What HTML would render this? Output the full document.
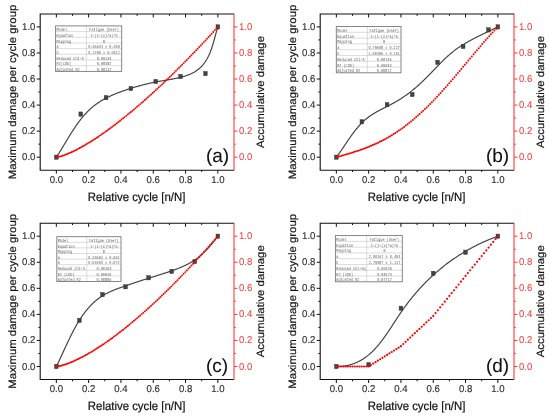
<!DOCTYPE html>
<html><head><meta charset="utf-8"><title>Fatigue damage plots</title><style>
html,body{margin:0;padding:0;background:#fff;overflow:hidden;}
svg{display:block;}
text{font-family:'Liberation Sans', Arial, sans-serif;fill:#1a1a1a;text-rendering:geometricPrecision;}
.tl{font-size:9.6px;fill:#303030;stroke:#303030;stroke-width:0.15px;}
.red{fill:#ff3c3c;stroke:#ff3c3c;stroke-width:0.05px;}
.at{font-size:11.4px;fill:#111;stroke:#111;stroke-width:0.2px;}
.pl{font-size:19.0px;fill:#111;stroke:#111;stroke-width:0.1px;}
.tb{font-family:'Liberation Mono', 'DejaVu Sans Mono', monospace;font-size:3.5px;fill:#5e5e5e;}
.tg{stroke:#c4c4c4;stroke-width:0.6;}
.fit{fill:none;stroke:#444;stroke-width:1.2;}
.sq{fill:#424242;stroke:#333;stroke-width:0.4;}
.rd{fill:none;stroke:#ff0000;stroke-linecap:round;}
.ax{fill:none;stroke:#111;stroke-width:1.1;}
.rax{stroke:#ff3a3a;stroke-width:1.1;}
.tk{stroke:#111;stroke-width:1;fill:none;}
.rtk{stroke:#ff3a3a;stroke-width:1;fill:none;}
</style></head>
<body><svg width="550" height="416" viewBox="0 0 550 416">
<rect width="550" height="416" fill="#fff"/>
<g transform="translate(0,0)">
<line x1="55.6" y1="31.59" x2="121.7" y2="31.59" class="tg"/>
<line x1="55.6" y1="37.27" x2="121.7" y2="37.27" class="tg"/>
<line x1="55.6" y1="42.96" x2="121.7" y2="42.96" class="tg"/>
<line x1="55.6" y1="48.65" x2="121.7" y2="48.65" class="tg"/>
<line x1="55.6" y1="54.34" x2="121.7" y2="54.34" class="tg"/>
<line x1="55.6" y1="60.03" x2="121.7" y2="60.03" class="tg"/>
<line x1="55.6" y1="65.71" x2="121.7" y2="65.71" class="tg"/>
<line x1="86.4" y1="25.9" x2="86.4" y2="71.4" class="tg"/>
<rect x="55.6" y="25.9" width="66.10" height="45.50" fill="none" stroke="#7a7a7a" stroke-width="0.9"/>
<text transform="translate(56.50,31.14) scale(1.000,1.300)" class="tb">Model</text>
<text transform="translate(104.05,31.14) scale(1.000,1.300)" class="tb" text-anchor="middle">Fatigue (User)</text>
<text transform="translate(56.50,36.83) scale(1.000,1.300)" class="tb">Equation</text>
<text transform="translate(104.05,36.83) scale(1.000,1.300)" class="tb" text-anchor="middle">1-(1-(x)^a)^b</text>
<text transform="translate(56.50,42.52) scale(1.000,1.300)" class="tb">Mapping</text>
<text transform="translate(104.05,42.52) scale(1.000,1.300)" class="tb" text-anchor="middle">B</text>
<text transform="translate(56.50,48.21) scale(1.000,1.300)" class="tb">a</text>
<text transform="translate(104.05,48.21) scale(1.000,1.300)" class="tb" text-anchor="middle">0.06641 ± 0.039</text>
<text transform="translate(56.50,53.89) scale(1.000,1.300)" class="tb">b</text>
<text transform="translate(104.05,53.89) scale(1.000,1.300)" class="tb" text-anchor="middle">0.2205 ± 0.0412</text>
<text transform="translate(56.50,59.58) scale(1.000,1.300)" class="tb">Reduced Chi-S</text>
<text transform="translate(104.05,59.58) scale(1.000,1.300)" class="tb" text-anchor="middle">0.00134</text>
<text transform="translate(56.50,65.27) scale(1.000,1.300)" class="tb">R2(COD)</text>
<text transform="translate(104.05,65.27) scale(1.000,1.300)" class="tb" text-anchor="middle">0.98382</text>
<text transform="translate(56.50,70.96) scale(1.000,1.300)" class="tb">Adjusted R2</text>
<text transform="translate(104.05,70.96) scale(1.000,1.300)" class="tb" text-anchor="middle">0.98112</text>
<path d="M56.35,157.20 L56.59,156.84 L56.82,156.49 L57.06,156.13 L57.29,155.77 L57.53,155.41 L57.76,155.04 L58.00,154.68 L58.23,154.32 L58.46,153.95 L58.70,153.58 L58.93,153.22 L59.16,152.85 L59.40,152.48 L59.63,152.10 L59.86,151.73 L60.09,151.36 L60.32,150.99 L60.56,150.61 L60.79,150.24 L61.02,149.86 L61.25,149.48 L61.48,149.10 L61.71,148.73 L61.94,148.35 L62.17,147.97 L62.41,147.58 L62.64,147.20 L62.87,146.82 L63.10,146.44 L63.33,146.06 L63.56,145.67 L63.79,145.29 L64.02,144.90 L64.26,144.52 L64.49,144.13 L64.72,143.75 L64.95,143.36 L65.18,142.97 L65.42,142.59 L65.65,142.20 L65.88,141.81 L66.12,141.42 L66.35,141.04 L66.58,140.65 L66.82,140.26 L67.05,139.87 L67.29,139.48 L67.52,139.09 L67.76,138.71 L67.99,138.32 L68.23,137.93 L68.47,137.54 L68.70,137.15 L68.94,136.76 L69.18,136.37 L69.42,135.99 L69.66,135.60 L69.90,135.21 L70.14,134.82 L70.38,134.43 L70.62,134.05 L70.86,133.66 L71.10,133.27 L71.35,132.89 L71.59,132.50 L71.83,132.12 L72.08,131.73 L72.33,131.35 L72.57,130.96 L72.82,130.58 L73.07,130.20 L73.32,129.82 L73.57,129.43 L73.82,129.05 L74.07,128.67 L74.32,128.29 L74.57,127.91 L74.83,127.54 L75.08,127.16 L75.34,126.78 L75.59,126.41 L75.85,126.03 L76.11,125.66 L76.37,125.28 L76.63,124.91 L76.89,124.54 L77.15,124.17 L77.41,123.80 L77.68,123.43 L77.94,123.06 L78.21,122.70 L78.48,122.33 L78.75,121.97 L79.02,121.61 L79.29,121.25 L79.56,120.89 L79.83,120.53 L80.11,120.17 L80.38,119.81 L80.66,119.46 L80.94,119.10 L81.22,118.75 L81.50,118.40 L81.78,118.05 L82.07,117.70 L82.35,117.35 L82.64,117.01 L82.93,116.67 L83.21,116.32 L83.50,115.98 L83.80,115.65 L84.09,115.31 L84.38,114.97 L84.68,114.64 L84.98,114.31 L85.28,113.98 L85.58,113.65 L85.88,113.32 L86.18,113.00 L86.49,112.67 L86.80,112.35 L87.10,112.03 L87.42,111.72 L87.73,111.40 L88.04,111.09 L88.36,110.78 L88.67,110.47 L88.99,110.16 L89.31,109.86 L89.63,109.55 L89.96,109.25 L90.28,108.95 L90.61,108.66 L90.94,108.36 L91.27,108.07 L91.60,107.78 L91.94,107.50 L92.27,107.21 L92.61,106.93 L92.95,106.65 L93.30,106.37 L93.64,106.10 L93.99,105.82 L94.33,105.55 L94.68,105.29 L95.03,105.02 L95.39,104.76 L95.74,104.49 L96.10,104.24 L96.46,103.98 L96.82,103.72 L97.18,103.47 L97.54,103.22 L97.91,102.97 L98.27,102.73 L98.64,102.48 L99.01,102.24 L99.38,102.00 L99.75,101.76 L100.13,101.53 L100.50,101.29 L100.88,101.06 L101.26,100.83 L101.64,100.60 L102.02,100.38 L102.40,100.15 L102.79,99.93 L103.17,99.71 L103.56,99.49 L103.94,99.28 L104.33,99.06 L104.72,98.85 L105.12,98.64 L105.51,98.43 L105.90,98.22 L106.30,98.01 L106.69,97.81 L107.09,97.61 L107.49,97.41 L107.89,97.21 L108.29,97.01 L108.69,96.82 L109.09,96.62 L109.50,96.43 L109.90,96.24 L110.31,96.05 L110.71,95.86 L111.12,95.68 L111.53,95.49 L111.94,95.31 L112.35,95.13 L112.76,94.95 L113.17,94.77 L113.59,94.59 L114.00,94.41 L114.41,94.24 L114.83,94.07 L115.24,93.89 L115.66,93.72 L116.08,93.56 L116.49,93.39 L116.91,93.22 L117.33,93.06 L117.75,92.89 L118.17,92.73 L118.59,92.57 L119.01,92.41 L119.43,92.25 L119.86,92.09 L120.28,91.93 L120.70,91.78 L121.13,91.62 L121.55,91.47 L121.97,91.32 L122.40,91.17 L122.82,91.02 L123.25,90.87 L123.67,90.72 L124.10,90.57 L124.53,90.43 L124.95,90.28 L125.38,90.14 L125.81,89.99 L126.23,89.85 L126.66,89.71 L127.09,89.57 L127.52,89.43 L127.94,89.29 L128.37,89.15 L128.80,89.01 L129.23,88.88 L129.66,88.74 L130.08,88.60 L130.51,88.47 L130.94,88.34 L131.37,88.20 L131.80,88.07 L132.22,87.94 L132.65,87.81 L133.08,87.68 L133.51,87.55 L133.93,87.42 L134.36,87.29 L134.79,87.16 L135.22,87.04 L135.65,86.91 L136.07,86.79 L136.50,86.66 L136.93,86.54 L137.36,86.41 L137.79,86.29 L138.21,86.17 L138.64,86.05 L139.07,85.93 L139.50,85.81 L139.93,85.69 L140.36,85.58 L140.79,85.46 L141.22,85.34 L141.65,85.23 L142.08,85.11 L142.51,85.00 L142.94,84.89 L143.37,84.78 L143.80,84.67 L144.23,84.56 L144.66,84.45 L145.09,84.34 L145.53,84.23 L145.96,84.12 L146.39,84.02 L146.82,83.91 L147.26,83.81 L147.69,83.71 L148.12,83.61 L148.56,83.50 L148.99,83.40 L149.43,83.31 L149.86,83.21 L150.30,83.11 L150.74,83.01 L151.17,82.92 L151.61,82.82 L152.05,82.73 L152.49,82.64 L152.93,82.55 L153.36,82.45 L153.80,82.36 L154.24,82.28 L154.69,82.19 L155.13,82.10 L155.57,82.02 L156.01,81.93 L156.45,81.85 L156.90,81.76 L157.34,81.68 L157.78,81.60 L158.23,81.52 L158.67,81.44 L159.12,81.36 L159.57,81.28 L160.01,81.21 L160.46,81.13 L160.91,81.05 L161.35,80.98 L161.80,80.90 L162.25,80.82 L162.70,80.75 L163.14,80.67 L163.59,80.60 L164.04,80.52 L164.49,80.45 L164.94,80.37 L165.39,80.30 L165.84,80.22 L166.28,80.15 L166.73,80.07 L167.18,79.99 L167.63,79.92 L168.08,79.84 L168.53,79.76 L168.98,79.69 L169.43,79.61 L169.87,79.53 L170.32,79.45 L170.77,79.37 L171.22,79.29 L171.66,79.20 L172.11,79.12 L172.56,79.04 L173.00,78.95 L173.45,78.87 L173.90,78.78 L174.34,78.69 L174.79,78.60 L175.23,78.51 L175.68,78.42 L176.12,78.33 L176.56,78.23 L177.00,78.14 L177.45,78.04 L177.89,77.94 L178.33,77.84 L178.77,77.74 L179.21,77.63 L179.65,77.53 L180.08,77.42 L180.52,77.31 L180.96,77.20 L181.39,77.09 L181.83,76.97 L182.26,76.85 L182.70,76.73 L183.13,76.61 L183.56,76.49 L183.99,76.36 L184.42,76.23 L184.85,76.10 L185.27,75.96 L185.70,75.83 L186.12,75.69 L186.54,75.54 L186.96,75.40 L187.38,75.25 L187.79,75.10 L188.21,74.94 L188.62,74.78 L189.03,74.62 L189.43,74.46 L189.84,74.29 L190.24,74.12 L190.64,73.94 L191.04,73.76 L191.44,73.58 L191.83,73.39 L192.22,73.20 L192.61,73.01 L192.99,72.81 L193.38,72.61 L193.75,72.40 L194.13,72.19 L194.50,71.98 L194.87,71.76 L195.24,71.53 L195.60,71.30 L195.96,71.07 L196.32,70.83 L196.67,70.59 L197.02,70.34 L197.37,70.09 L197.71,69.83 L198.05,69.57 L198.38,69.31 L198.71,69.04 L199.04,68.76 L199.37,68.48 L199.69,68.20 L200.00,67.91 L200.32,67.61 L200.63,67.32 L200.93,67.01 L201.23,66.71 L201.53,66.40 L201.83,66.08 L202.12,65.76 L202.41,65.44 L202.69,65.11 L202.97,64.78 L203.25,64.45 L203.52,64.11 L203.79,63.76 L204.06,63.42 L204.32,63.07 L204.58,62.71 L204.84,62.36 L205.09,61.99 L205.34,61.63 L205.58,61.26 L205.82,60.89 L206.06,60.51 L206.30,60.13 L206.53,59.75 L206.76,59.37 L206.98,58.98 L207.20,58.58 L207.42,58.19 L207.63,57.79 L207.84,57.39 L208.05,56.99 L208.25,56.58 L208.45,56.17 L208.65,55.76 L208.84,55.34 L209.03,54.93 L209.22,54.51 L209.41,54.08 L209.59,53.66 L209.77,53.23 L209.95,52.81 L210.12,52.38 L210.29,51.94 L210.46,51.51 L210.63,51.08 L210.79,50.64 L210.95,50.20 L211.11,49.76 L211.27,49.32 L211.43,48.88 L211.58,48.44 L211.73,47.99 L211.88,47.55 L212.03,47.10 L212.17,46.66 L212.32,46.21 L212.46,45.76 L212.60,45.32 L212.74,44.87 L212.87,44.42 L213.01,43.97 L213.14,43.52 L213.27,43.07 L213.40,42.62 L213.53,42.18 L213.66,41.73 L213.79,41.28 L213.92,40.83 L214.04,40.39 L214.17,39.94 L214.29,39.49 L214.41,39.05 L214.53,38.60 L214.65,38.16 L214.77,37.72 L214.89,37.28 L215.01,36.84 L215.13,36.40 L215.25,35.97 L215.37,35.53 L215.48,35.10 L215.60,34.66 L215.72,34.23 L215.83,33.81 L215.95,33.38 L216.07,32.96 L216.18,32.53 L216.30,32.11 L216.42,31.70 L216.53,31.28 L216.65,30.87 L216.77,30.46 L216.89,30.05 L217.00,29.65 L217.12,29.25 L217.24,28.85 L217.36,28.45 L217.48,28.06 L217.60,27.67 L217.73,27.28 L217.85,26.90" class="fit"/>
<rect x="54.50" y="155.05" width="3.7" height="4.3" class="sq"/>
<rect x="78.89" y="111.92" width="3.7" height="4.3" class="sq"/>
<rect x="104.19" y="95.50" width="3.7" height="4.3" class="sq"/>
<rect x="129.03" y="86.38" width="3.7" height="4.3" class="sq"/>
<rect x="153.89" y="79.35" width="3.7" height="4.3" class="sq"/>
<rect x="178.73" y="74.39" width="3.7" height="4.3" class="sq"/>
<rect x="203.58" y="71.40" width="3.7" height="4.3" class="sq"/>
<rect x="216.00" y="24.75" width="3.7" height="4.3" class="sq"/>
<path d="M56.35,157.20h0 M57.90,156.98h0 M59.46,156.62h0 M61.01,156.19h0 M62.56,155.70h0 M64.11,155.16h0 M65.67,154.58h0 M67.22,153.97h0 M68.77,153.32h0 M70.33,152.64h0 M71.88,151.93h0 M73.43,151.20h0 M74.98,150.44h0 M76.54,149.65h0 M78.09,148.85h0 M79.64,148.02h0 M81.20,147.17h0 M82.75,146.30h0 M84.30,145.41h0 M85.85,144.51h0 M87.41,143.58h0 M88.96,142.64h0 M90.51,141.69h0 M92.07,140.71h0 M93.62,139.72h0 M95.17,138.72h0 M96.72,137.70h0 M98.28,136.66h0 M99.83,135.61h0 M101.38,134.55h0 M102.94,133.47h0 M104.49,132.38h0 M106.04,131.28h0 M107.60,130.16h0 M109.15,129.03h0 M110.70,127.89h0 M112.25,126.74h0 M113.81,125.57h0 M115.36,124.40h0 M116.91,123.21h0 M118.47,122.01h0 M120.02,120.80h0 M121.57,119.58h0 M123.12,118.34h0 M124.68,117.10h0 M126.23,115.85h0 M127.78,114.58h0 M129.34,113.31h0 M130.89,112.02h0 M132.44,110.73h0 M133.99,109.43h0 M135.55,108.11h0 M137.10,106.79h0 M138.65,105.46h0 M140.21,104.11h0 M141.76,102.76h0 M143.31,101.40h0 M144.86,100.03h0 M146.42,98.65h0 M147.97,97.27h0 M149.52,95.87h0 M151.08,94.46h0 M152.63,93.05h0 M154.18,91.63h0 M155.73,90.20h0 M157.29,88.76h0 M158.84,87.32h0 M160.39,85.86h0 M161.95,84.40h0 M163.50,82.93h0 M165.05,81.45h0 M166.60,79.96h0 M168.16,78.47h0 M169.71,76.97h0 M171.26,75.46h0 M172.82,73.94h0 M174.37,72.41h0 M175.92,70.88h0 M177.47,69.34h0 M179.03,67.80h0 M180.58,66.24h0 M182.13,64.68h0 M183.69,63.11h0 M185.24,61.54h0 M186.79,59.95h0 M188.35,58.36h0 M189.90,56.77h0 M191.45,55.16h0 M193.00,53.55h0 M194.56,51.94h0 M196.11,50.31h0 M197.66,48.68h0 M199.22,47.05h0 M200.77,45.40h0 M202.32,43.75h0 M203.87,42.10h0 M205.43,40.43h0 M206.98,38.76h0 M208.53,37.09h0 M210.09,35.41h0 M211.64,33.72h0 M213.19,32.02h0 M214.74,30.32h0 M216.30,28.61h0 M217.85,26.90h0" class="rd" stroke-width="1.95"/>
<path d="M234.0,14.0 H40.2 V170.2 H234.0" class="ax"/>
<line x1="234.0" y1="13.5" x2="234.0" y2="170.7" class="rax"/>
<path d="M56.35,170.2 v3.5 M56.35,14.0 v3.5 M40.2,157.20 h-3.5 M72.50,170.2 v1.8 M72.50,14.0 v1.8 M40.2,144.17 h-1.8 M88.65,170.2 v3.5 M88.65,14.0 v3.5 M40.2,131.14 h-3.5 M104.80,170.2 v1.8 M104.80,14.0 v1.8 M40.2,118.11 h-1.8 M120.95,170.2 v3.5 M120.95,14.0 v3.5 M40.2,105.08 h-3.5 M137.10,170.2 v1.8 M137.10,14.0 v1.8 M40.2,92.05 h-1.8 M153.25,170.2 v3.5 M153.25,14.0 v3.5 M40.2,79.02 h-3.5 M169.40,170.2 v1.8 M169.40,14.0 v1.8 M40.2,65.99 h-1.8 M185.55,170.2 v3.5 M185.55,14.0 v3.5 M40.2,52.96 h-3.5 M201.70,170.2 v1.8 M201.70,14.0 v1.8 M40.2,39.93 h-1.8 M217.85,170.2 v3.5 M217.85,14.0 v3.5 M40.2,26.90 h-3.5" class="tk"/>
<path d="M234.0,157.20 h3.5 M234.0,144.17 h1.8 M234.0,131.14 h3.5 M234.0,118.11 h1.8 M234.0,105.08 h3.5 M234.0,92.05 h1.8 M234.0,79.02 h3.5 M234.0,65.99 h1.8 M234.0,52.96 h3.5 M234.0,39.93 h1.8 M234.0,26.90 h3.5" class="rtk"/>
<text transform="translate(56.35,183.10) scale(1.000,1.030)" class="tl" text-anchor="middle">0.0</text>
<text transform="translate(35.40,160.24) scale(1.000,1.030)" class="tl" text-anchor="end">0.0</text>
<text transform="translate(239.00,160.24) scale(1.000,1.030)" class="tl red">0.0</text>
<text transform="translate(88.65,183.10) scale(1.000,1.030)" class="tl" text-anchor="middle">0.2</text>
<text transform="translate(35.40,134.18) scale(1.000,1.030)" class="tl" text-anchor="end">0.2</text>
<text transform="translate(239.00,134.18) scale(1.000,1.030)" class="tl red">0.2</text>
<text transform="translate(120.95,183.10) scale(1.000,1.030)" class="tl" text-anchor="middle">0.4</text>
<text transform="translate(35.40,108.12) scale(1.000,1.030)" class="tl" text-anchor="end">0.4</text>
<text transform="translate(239.00,108.12) scale(1.000,1.030)" class="tl red">0.4</text>
<text transform="translate(153.25,183.10) scale(1.000,1.030)" class="tl" text-anchor="middle">0.6</text>
<text transform="translate(35.40,82.06) scale(1.000,1.030)" class="tl" text-anchor="end">0.6</text>
<text transform="translate(239.00,82.06) scale(1.000,1.030)" class="tl red">0.6</text>
<text transform="translate(185.55,183.10) scale(1.000,1.030)" class="tl" text-anchor="middle">0.8</text>
<text transform="translate(35.40,56.00) scale(1.000,1.030)" class="tl" text-anchor="end">0.8</text>
<text transform="translate(239.00,56.00) scale(1.000,1.030)" class="tl red">0.8</text>
<text transform="translate(217.85,183.10) scale(1.000,1.030)" class="tl" text-anchor="middle">1.0</text>
<text transform="translate(35.40,29.94) scale(1.000,1.030)" class="tl" text-anchor="end">1.0</text>
<text transform="translate(239.00,29.94) scale(1.000,1.030)" class="tl red">1.0</text>
<text transform="translate(136.60,200.50) scale(1.000,1.060)" class="at" text-anchor="middle">Relative cycle [n/N]</text>
<text transform="translate(15.90,92.00) scale(0.935,1.000) rotate(-90)" class="at" text-anchor="middle">Maximum damage per cycle group</text>
<text transform="translate(264.30,92.00) scale(0.935,1.000) rotate(-90)" class="at" text-anchor="middle">Accumulative damage</text>
<text transform="translate(205.90,162.20)" class="pl">(a)</text>
</g>
<g transform="translate(280,0)">
<line x1="56.3" y1="32.29" x2="121.0" y2="32.29" class="tg"/>
<line x1="56.3" y1="38.08" x2="121.0" y2="38.08" class="tg"/>
<line x1="56.3" y1="43.86" x2="121.0" y2="43.86" class="tg"/>
<line x1="56.3" y1="49.65" x2="121.0" y2="49.65" class="tg"/>
<line x1="56.3" y1="55.44" x2="121.0" y2="55.44" class="tg"/>
<line x1="56.3" y1="61.22" x2="121.0" y2="61.22" class="tg"/>
<line x1="56.3" y1="67.01" x2="121.0" y2="67.01" class="tg"/>
<line x1="87.3" y1="26.5" x2="87.3" y2="72.8" class="tg"/>
<rect x="56.3" y="26.5" width="64.70" height="46.30" fill="none" stroke="#7a7a7a" stroke-width="0.9"/>
<text transform="translate(57.20,31.79) scale(1.000,1.300)" class="tb">Model</text>
<text transform="translate(104.15,31.79) scale(1.000,1.300)" class="tb" text-anchor="middle">Fatigue (User)</text>
<text transform="translate(57.20,37.58) scale(1.000,1.300)" class="tb">Equation</text>
<text transform="translate(104.15,37.58) scale(1.000,1.300)" class="tb" text-anchor="middle">1-(1-(x)^a)^b</text>
<text transform="translate(57.20,43.37) scale(1.000,1.300)" class="tb">Mapping</text>
<text transform="translate(104.15,43.37) scale(1.000,1.300)" class="tb" text-anchor="middle">B</text>
<text transform="translate(57.20,49.16) scale(1.000,1.300)" class="tb">a</text>
<text transform="translate(104.15,49.16) scale(1.000,1.300)" class="tb" text-anchor="middle">0.79508 ± 0.127</text>
<text transform="translate(57.20,54.94) scale(1.000,1.300)" class="tb">b</text>
<text transform="translate(104.15,54.94) scale(1.000,1.300)" class="tb" text-anchor="middle">1.00486 ± 0.151</text>
<text transform="translate(57.20,60.73) scale(1.000,1.300)" class="tb">Reduced Chi-S</text>
<text transform="translate(104.15,60.73) scale(1.000,1.300)" class="tb" text-anchor="middle">0.00145</text>
<text transform="translate(57.20,66.52) scale(1.000,1.300)" class="tb">R2 (COD)</text>
<text transform="translate(104.15,66.52) scale(1.000,1.300)" class="tb" text-anchor="middle">0.99033</text>
<text transform="translate(57.20,72.31) scale(1.000,1.300)" class="tb">Adjusted R2</text>
<text transform="translate(104.15,72.31) scale(1.000,1.300)" class="tb" text-anchor="middle">0.98872</text>
<path d="M56.35,157.20 L56.60,156.87 L56.85,156.54 L57.10,156.21 L57.35,155.88 L57.59,155.55 L57.84,155.21 L58.09,154.88 L58.33,154.54 L58.58,154.20 L58.82,153.86 L59.07,153.52 L59.31,153.18 L59.55,152.84 L59.80,152.50 L60.04,152.15 L60.28,151.81 L60.52,151.46 L60.76,151.11 L61.01,150.77 L61.25,150.42 L61.49,150.07 L61.73,149.72 L61.97,149.37 L62.21,149.01 L62.45,148.66 L62.69,148.31 L62.93,147.95 L63.17,147.60 L63.41,147.25 L63.65,146.89 L63.89,146.54 L64.13,146.18 L64.37,145.82 L64.61,145.47 L64.85,145.11 L65.08,144.75 L65.32,144.40 L65.56,144.04 L65.81,143.68 L66.05,143.32 L66.29,142.97 L66.53,142.61 L66.77,142.25 L67.01,141.89 L67.25,141.54 L67.49,141.18 L67.74,140.82 L67.98,140.46 L68.22,140.11 L68.47,139.75 L68.71,139.39 L68.96,139.04 L69.20,138.68 L69.45,138.32 L69.69,137.97 L69.94,137.62 L70.19,137.26 L70.44,136.91 L70.68,136.55 L70.93,136.20 L71.18,135.85 L71.43,135.50 L71.69,135.15 L71.94,134.80 L72.19,134.45 L72.44,134.10 L72.70,133.75 L72.96,133.41 L73.21,133.06 L73.47,132.72 L73.73,132.37 L73.99,132.03 L74.25,131.69 L74.51,131.35 L74.77,131.01 L75.03,130.67 L75.30,130.33 L75.56,130.00 L75.83,129.66 L76.10,129.33 L76.37,129.00 L76.64,128.67 L76.91,128.34 L77.18,128.01 L77.45,127.68 L77.73,127.36 L78.00,127.03 L78.28,126.71 L78.56,126.39 L78.84,126.07 L79.12,125.76 L79.41,125.44 L79.69,125.13 L79.98,124.82 L80.26,124.51 L80.55,124.20 L80.84,123.89 L81.14,123.59 L81.43,123.29 L81.72,122.99 L82.02,122.69 L82.32,122.39 L82.62,122.10 L82.92,121.81 L83.23,121.52 L83.53,121.23 L83.84,120.94 L84.15,120.66 L84.46,120.38 L84.77,120.10 L85.09,119.82 L85.40,119.55 L85.72,119.28 L86.04,119.01 L86.36,118.74 L86.69,118.48 L87.01,118.22 L87.34,117.96 L87.67,117.70 L88.00,117.45 L88.34,117.20 L88.67,116.95 L89.01,116.70 L89.35,116.46 L89.69,116.22 L90.03,115.98 L90.38,115.74 L90.72,115.51 L91.07,115.27 L91.42,115.04 L91.77,114.81 L92.12,114.58 L92.48,114.36 L92.83,114.13 L93.19,113.91 L93.55,113.69 L93.91,113.47 L94.27,113.26 L94.63,113.04 L94.99,112.83 L95.35,112.61 L95.72,112.40 L96.08,112.19 L96.45,111.98 L96.82,111.78 L97.19,111.57 L97.56,111.36 L97.93,111.16 L98.30,110.96 L98.67,110.76 L99.04,110.56 L99.42,110.36 L99.79,110.16 L100.16,109.96 L100.54,109.76 L100.91,109.56 L101.29,109.37 L101.67,109.17 L102.04,108.98 L102.42,108.78 L102.80,108.59 L103.18,108.40 L103.56,108.20 L103.93,108.01 L104.31,107.82 L104.69,107.62 L105.07,107.43 L105.45,107.24 L105.83,107.05 L106.21,106.86 L106.59,106.67 L106.97,106.47 L107.35,106.28 L107.72,106.09 L108.10,105.90 L108.48,105.70 L108.86,105.51 L109.24,105.32 L109.61,105.12 L109.99,104.93 L110.37,104.73 L110.74,104.54 L111.12,104.34 L111.49,104.15 L111.87,103.95 L112.24,103.75 L112.61,103.55 L112.99,103.35 L113.36,103.15 L113.73,102.95 L114.10,102.75 L114.47,102.54 L114.83,102.34 L115.20,102.13 L115.57,101.92 L115.93,101.71 L116.30,101.50 L116.66,101.29 L117.02,101.08 L117.38,100.87 L117.74,100.65 L118.10,100.44 L118.46,100.22 L118.82,100.00 L119.17,99.78 L119.53,99.56 L119.88,99.34 L120.24,99.12 L120.59,98.89 L120.94,98.67 L121.29,98.44 L121.64,98.21 L121.99,97.98 L122.34,97.75 L122.68,97.52 L123.03,97.29 L123.38,97.06 L123.72,96.82 L124.06,96.59 L124.41,96.35 L124.75,96.11 L125.09,95.87 L125.43,95.63 L125.77,95.39 L126.11,95.15 L126.44,94.91 L126.78,94.66 L127.11,94.42 L127.45,94.17 L127.78,93.93 L128.12,93.68 L128.45,93.43 L128.78,93.18 L129.11,92.93 L129.44,92.67 L129.77,92.42 L130.10,92.17 L130.43,91.91 L130.75,91.66 L131.08,91.40 L131.41,91.14 L131.73,90.88 L132.05,90.62 L132.38,90.36 L132.70,90.10 L133.02,89.84 L133.34,89.57 L133.66,89.31 L133.98,89.05 L134.30,88.78 L134.62,88.51 L134.94,88.24 L135.26,87.98 L135.57,87.71 L135.89,87.44 L136.20,87.16 L136.52,86.89 L136.83,86.62 L137.14,86.35 L137.46,86.07 L137.77,85.80 L138.08,85.52 L138.39,85.24 L138.70,84.97 L139.01,84.69 L139.32,84.41 L139.62,84.13 L139.93,83.85 L140.24,83.56 L140.55,83.28 L140.85,83.00 L141.16,82.72 L141.46,82.43 L141.77,82.15 L142.07,81.86 L142.37,81.57 L142.67,81.29 L142.98,81.00 L143.28,80.71 L143.58,80.42 L143.88,80.13 L144.18,79.84 L144.48,79.55 L144.78,79.26 L145.08,78.96 L145.37,78.67 L145.67,78.38 L145.97,78.08 L146.26,77.79 L146.56,77.49 L146.86,77.19 L147.15,76.90 L147.45,76.60 L147.74,76.30 L148.03,76.00 L148.33,75.70 L148.62,75.40 L148.91,75.10 L149.21,74.80 L149.50,74.50 L149.79,74.20 L150.08,73.90 L150.38,73.60 L150.67,73.30 L150.96,72.99 L151.25,72.69 L151.54,72.39 L151.83,72.09 L152.12,71.78 L152.41,71.48 L152.70,71.17 L152.99,70.87 L153.28,70.57 L153.57,70.26 L153.87,69.96 L154.16,69.65 L154.45,69.35 L154.74,69.05 L155.03,68.74 L155.32,68.44 L155.61,68.13 L155.90,67.83 L156.19,67.53 L156.48,67.22 L156.78,66.92 L157.07,66.62 L157.36,66.31 L157.65,66.01 L157.95,65.71 L158.24,65.40 L158.53,65.10 L158.83,64.80 L159.12,64.50 L159.41,64.20 L159.71,63.90 L160.00,63.60 L160.30,63.30 L160.60,63.00 L160.89,62.70 L161.19,62.40 L161.49,62.10 L161.79,61.80 L162.09,61.51 L162.38,61.21 L162.68,60.92 L162.99,60.62 L163.29,60.33 L163.59,60.03 L163.89,59.74 L164.19,59.45 L164.50,59.16 L164.80,58.87 L165.11,58.58 L165.41,58.29 L165.72,58.00 L166.03,57.71 L166.34,57.42 L166.65,57.14 L166.96,56.85 L167.27,56.57 L167.58,56.29 L167.89,56.00 L168.21,55.72 L168.52,55.44 L168.84,55.16 L169.16,54.89 L169.47,54.61 L169.79,54.33 L170.11,54.06 L170.43,53.79 L170.76,53.52 L171.08,53.24 L171.41,52.97 L171.73,52.71 L172.06,52.44 L172.39,52.17 L172.72,51.91 L173.05,51.65 L173.38,51.38 L173.71,51.12 L174.04,50.87 L174.38,50.61 L174.72,50.35 L175.06,50.10 L175.40,49.84 L175.74,49.59 L176.08,49.34 L176.42,49.09 L176.77,48.85 L177.11,48.60 L177.46,48.36 L177.81,48.11 L178.16,47.87 L178.51,47.63 L178.86,47.39 L179.21,47.15 L179.57,46.91 L179.92,46.68 L180.28,46.44 L180.63,46.21 L180.99,45.98 L181.35,45.75 L181.71,45.52 L182.07,45.29 L182.43,45.06 L182.79,44.84 L183.16,44.61 L183.52,44.39 L183.89,44.16 L184.25,43.94 L184.62,43.72 L184.99,43.50 L185.36,43.28 L185.72,43.07 L186.09,42.85 L186.46,42.63 L186.84,42.42 L187.21,42.21 L187.58,41.99 L187.95,41.78 L188.33,41.57 L188.70,41.36 L189.08,41.15 L189.45,40.94 L189.83,40.74 L190.21,40.53 L190.58,40.33 L190.96,40.12 L191.34,39.92 L191.72,39.71 L192.10,39.51 L192.47,39.31 L192.85,39.11 L193.23,38.91 L193.62,38.71 L194.00,38.51 L194.38,38.32 L194.76,38.12 L195.14,37.92 L195.52,37.73 L195.90,37.53 L196.29,37.34 L196.67,37.15 L197.05,36.95 L197.44,36.76 L197.82,36.57 L198.20,36.38 L198.59,36.19 L198.97,36.00 L199.35,35.81 L199.74,35.62 L200.12,35.43 L200.50,35.24 L200.89,35.05 L201.27,34.87 L201.66,34.68 L202.04,34.50 L202.42,34.31 L202.81,34.12 L203.19,33.94 L203.57,33.76 L203.96,33.57 L204.34,33.39 L204.72,33.20 L205.10,33.02 L205.49,32.84 L205.87,32.66 L206.25,32.47 L206.63,32.29 L207.01,32.11 L207.39,31.93 L207.77,31.75 L208.15,31.57 L208.53,31.39 L208.91,31.21 L209.29,31.03 L209.67,30.85 L210.05,30.67 L210.43,30.49 L210.80,30.31 L211.18,30.13 L211.56,29.95 L211.93,29.77 L212.31,29.59 L212.68,29.41 L213.05,29.23 L213.43,29.05 L213.80,28.87 L214.17,28.69 L214.54,28.51 L214.91,28.33 L215.28,28.16 L215.65,27.98 L216.02,27.80 L216.39,27.62 L216.75,27.44 L217.12,27.26 L217.49,27.08 L217.85,26.90" class="fit"/>
<rect x="54.50" y="155.05" width="3.7" height="4.3" class="sq"/>
<rect x="80.02" y="119.61" width="3.7" height="4.3" class="sq"/>
<rect x="105.21" y="102.54" width="3.7" height="4.3" class="sq"/>
<rect x="130.41" y="92.38" width="3.7" height="4.3" class="sq"/>
<rect x="155.76" y="60.19" width="3.7" height="4.3" class="sq"/>
<rect x="181.28" y="44.29" width="3.7" height="4.3" class="sq"/>
<rect x="206.63" y="27.75" width="3.7" height="4.3" class="sq"/>
<rect x="216.00" y="24.75" width="3.7" height="4.3" class="sq"/>
<path d="M56.35,157.20h0 M58.09,156.70h0 M59.82,156.20h0 M61.56,155.71h0 M63.30,155.21h0 M65.03,154.71h0 M66.77,154.20h0 M68.51,153.69h0 M70.24,153.17h0 M71.98,152.64h0 M73.72,152.10h0 M75.45,151.55h0 M77.19,150.99h0 M78.93,150.41h0 M80.66,149.81h0 M82.40,149.20h0 M84.13,148.56h0 M85.87,147.91h0 M87.61,147.24h0 M89.34,146.55h0 M91.08,145.83h0 M92.82,145.09h0 M94.55,144.32h0 M96.29,143.53h0 M98.03,142.71h0 M99.76,141.87h0 M101.50,140.99h0 M103.24,140.09h0 M104.97,139.16h0 M106.71,138.20h0 M108.45,137.21h0 M110.18,136.19h0 M111.92,135.14h0 M113.66,134.06h0 M115.39,132.94h0 M117.13,131.79h0 M118.87,130.61h0 M120.60,129.40h0 M122.34,128.16h0 M124.08,126.88h0 M125.81,125.58h0 M127.55,124.23h0 M129.29,122.86h0 M131.02,121.45h0 M132.76,120.02h0 M134.50,118.55h0 M136.23,117.05h0 M137.97,115.51h0 M139.70,113.95h0 M141.44,112.35h0 M143.18,110.73h0 M144.91,109.08h0 M146.65,107.39h0 M148.39,105.68h0 M150.12,103.94h0 M151.86,102.17h0 M153.60,100.38h0 M155.33,98.56h0 M157.07,96.72h0 M158.81,94.86h0 M160.54,92.97h0 M162.28,91.05h0 M164.02,89.12h0 M165.75,87.17h0 M167.49,85.20h0 M169.23,83.21h0 M170.96,81.21h0 M172.70,79.19h0 M174.44,77.16h0 M176.17,75.12h0 M177.91,73.06h0 M179.65,71.00h0 M181.38,68.93h0 M183.12,66.85h0 M184.86,64.77h0 M186.59,62.69h0 M188.33,60.60h0 M190.07,58.52h0 M191.80,56.43h0 M193.54,54.36h0 M195.27,52.28h0 M197.01,50.22h0 M198.75,48.17h0 M200.48,46.13h0 M202.22,44.10h0 M203.96,42.10h0 M205.69,40.11h0 M207.43,38.14h0 M209.17,36.19h0 M210.90,34.27h0 M212.64,32.38h0 M214.38,30.52h0 M216.11,28.69h0 M217.85,26.90h0" class="rd" stroke-width="2.0"/>
<path d="M234.0,14.0 H40.2 V170.2 H234.0" class="ax"/>
<line x1="234.0" y1="13.5" x2="234.0" y2="170.7" class="rax"/>
<path d="M56.35,170.2 v3.5 M56.35,14.0 v3.5 M40.2,157.20 h-3.5 M72.50,170.2 v1.8 M72.50,14.0 v1.8 M40.2,144.17 h-1.8 M88.65,170.2 v3.5 M88.65,14.0 v3.5 M40.2,131.14 h-3.5 M104.80,170.2 v1.8 M104.80,14.0 v1.8 M40.2,118.11 h-1.8 M120.95,170.2 v3.5 M120.95,14.0 v3.5 M40.2,105.08 h-3.5 M137.10,170.2 v1.8 M137.10,14.0 v1.8 M40.2,92.05 h-1.8 M153.25,170.2 v3.5 M153.25,14.0 v3.5 M40.2,79.02 h-3.5 M169.40,170.2 v1.8 M169.40,14.0 v1.8 M40.2,65.99 h-1.8 M185.55,170.2 v3.5 M185.55,14.0 v3.5 M40.2,52.96 h-3.5 M201.70,170.2 v1.8 M201.70,14.0 v1.8 M40.2,39.93 h-1.8 M217.85,170.2 v3.5 M217.85,14.0 v3.5 M40.2,26.90 h-3.5" class="tk"/>
<path d="M234.0,157.20 h3.5 M234.0,144.17 h1.8 M234.0,131.14 h3.5 M234.0,118.11 h1.8 M234.0,105.08 h3.5 M234.0,92.05 h1.8 M234.0,79.02 h3.5 M234.0,65.99 h1.8 M234.0,52.96 h3.5 M234.0,39.93 h1.8 M234.0,26.90 h3.5" class="rtk"/>
<text transform="translate(56.35,183.10) scale(1.000,1.030)" class="tl" text-anchor="middle">0.0</text>
<text transform="translate(35.40,160.24) scale(1.000,1.030)" class="tl" text-anchor="end">0.0</text>
<text transform="translate(239.00,160.24) scale(1.000,1.030)" class="tl red">0.0</text>
<text transform="translate(88.65,183.10) scale(1.000,1.030)" class="tl" text-anchor="middle">0.2</text>
<text transform="translate(35.40,134.18) scale(1.000,1.030)" class="tl" text-anchor="end">0.2</text>
<text transform="translate(239.00,134.18) scale(1.000,1.030)" class="tl red">0.2</text>
<text transform="translate(120.95,183.10) scale(1.000,1.030)" class="tl" text-anchor="middle">0.4</text>
<text transform="translate(35.40,108.12) scale(1.000,1.030)" class="tl" text-anchor="end">0.4</text>
<text transform="translate(239.00,108.12) scale(1.000,1.030)" class="tl red">0.4</text>
<text transform="translate(153.25,183.10) scale(1.000,1.030)" class="tl" text-anchor="middle">0.6</text>
<text transform="translate(35.40,82.06) scale(1.000,1.030)" class="tl" text-anchor="end">0.6</text>
<text transform="translate(239.00,82.06) scale(1.000,1.030)" class="tl red">0.6</text>
<text transform="translate(185.55,183.10) scale(1.000,1.030)" class="tl" text-anchor="middle">0.8</text>
<text transform="translate(35.40,56.00) scale(1.000,1.030)" class="tl" text-anchor="end">0.8</text>
<text transform="translate(239.00,56.00) scale(1.000,1.030)" class="tl red">0.8</text>
<text transform="translate(217.85,183.10) scale(1.000,1.030)" class="tl" text-anchor="middle">1.0</text>
<text transform="translate(35.40,29.94) scale(1.000,1.030)" class="tl" text-anchor="end">1.0</text>
<text transform="translate(239.00,29.94) scale(1.000,1.030)" class="tl red">1.0</text>
<text transform="translate(136.60,200.50) scale(1.000,1.060)" class="at" text-anchor="middle">Relative cycle [n/N]</text>
<text transform="translate(15.90,92.00) scale(0.935,1.000) rotate(-90)" class="at" text-anchor="middle">Maximum damage per cycle group</text>
<text transform="translate(264.30,92.00) scale(0.935,1.000) rotate(-90)" class="at" text-anchor="middle">Accumulative damage</text>
<text transform="translate(205.90,162.20)" class="pl">(b)</text>
</g>
<g transform="translate(0,209.3)">
<line x1="56.8" y1="33.00" x2="121.0" y2="33.00" class="tg"/>
<line x1="56.8" y1="38.60" x2="121.0" y2="38.60" class="tg"/>
<line x1="56.8" y1="44.20" x2="121.0" y2="44.20" class="tg"/>
<line x1="56.8" y1="49.80" x2="121.0" y2="49.80" class="tg"/>
<line x1="56.8" y1="55.40" x2="121.0" y2="55.40" class="tg"/>
<line x1="56.8" y1="61.00" x2="121.0" y2="61.00" class="tg"/>
<line x1="56.8" y1="66.60" x2="121.0" y2="66.60" class="tg"/>
<line x1="86.8" y1="27.4" x2="86.8" y2="72.2" class="tg"/>
<rect x="56.8" y="27.4" width="64.20" height="44.80" fill="none" stroke="#7a7a7a" stroke-width="0.9"/>
<text transform="translate(57.70,32.60) scale(1.000,1.300)" class="tb">Model</text>
<text transform="translate(103.90,32.60) scale(1.000,1.300)" class="tb" text-anchor="middle">Fatigue (User)</text>
<text transform="translate(57.70,38.20) scale(1.000,1.300)" class="tb">Equation</text>
<text transform="translate(103.90,38.20) scale(1.000,1.300)" class="tb" text-anchor="middle">1-(1-(x)^a)^b</text>
<text transform="translate(57.70,43.80) scale(1.000,1.300)" class="tb">Mapping</text>
<text transform="translate(103.90,43.80) scale(1.000,1.300)" class="tb" text-anchor="middle">B</text>
<text transform="translate(57.70,49.40) scale(1.000,1.300)" class="tb">a</text>
<text transform="translate(103.90,49.40) scale(1.000,1.300)" class="tb" text-anchor="middle">0.29604 ± 0.061</text>
<text transform="translate(57.70,55.00) scale(1.000,1.300)" class="tb">b</text>
<text transform="translate(103.90,55.00) scale(1.000,1.300)" class="tb" text-anchor="middle">0.54593 ± 0.072</text>
<text transform="translate(57.70,60.60) scale(1.000,1.300)" class="tb">Reduced Chi-S</text>
<text transform="translate(103.90,60.60) scale(1.000,1.300)" class="tb" text-anchor="middle">0.00103</text>
<text transform="translate(57.70,66.20) scale(1.000,1.300)" class="tb">R2 (COD)</text>
<text transform="translate(103.90,66.20) scale(1.000,1.300)" class="tb" text-anchor="middle">0.99045</text>
<text transform="translate(57.70,71.80) scale(1.000,1.300)" class="tb">Adjusted R2</text>
<text transform="translate(103.90,71.80) scale(1.000,1.300)" class="tb" text-anchor="middle">0.98886</text>
<path d="M56.35,157.20 L56.53,156.84 L56.71,156.47 L56.90,156.10 L57.08,155.74 L57.26,155.37 L57.44,155.00 L57.62,154.62 L57.80,154.25 L57.98,153.88 L58.17,153.50 L58.35,153.13 L58.53,152.75 L58.71,152.37 L58.89,151.99 L59.07,151.61 L59.25,151.23 L59.43,150.85 L59.61,150.46 L59.79,150.08 L59.97,149.69 L60.15,149.31 L60.33,148.92 L60.51,148.53 L60.69,148.14 L60.87,147.75 L61.05,147.36 L61.23,146.97 L61.42,146.58 L61.60,146.19 L61.78,145.79 L61.96,145.40 L62.14,145.01 L62.32,144.61 L62.50,144.21 L62.68,143.82 L62.87,143.42 L63.05,143.02 L63.23,142.62 L63.41,142.22 L63.60,141.83 L63.78,141.43 L63.96,141.02 L64.15,140.62 L64.33,140.22 L64.51,139.82 L64.70,139.42 L64.88,139.02 L65.07,138.61 L65.25,138.21 L65.44,137.81 L65.63,137.40 L65.81,137.00 L66.00,136.60 L66.19,136.19 L66.37,135.79 L66.56,135.38 L66.75,134.98 L66.94,134.57 L67.13,134.17 L67.32,133.76 L67.51,133.36 L67.70,132.95 L67.89,132.54 L68.08,132.14 L68.28,131.73 L68.47,131.33 L68.66,130.92 L68.86,130.52 L69.05,130.11 L69.25,129.71 L69.44,129.30 L69.64,128.90 L69.84,128.49 L70.03,128.09 L70.23,127.68 L70.43,127.28 L70.63,126.87 L70.83,126.47 L71.03,126.07 L71.23,125.66 L71.44,125.26 L71.64,124.86 L71.84,124.46 L72.05,124.05 L72.25,123.65 L72.46,123.25 L72.67,122.85 L72.87,122.45 L73.08,122.05 L73.29,121.65 L73.50,121.26 L73.71,120.86 L73.92,120.46 L74.14,120.06 L74.35,119.67 L74.56,119.27 L74.78,118.88 L75.00,118.48 L75.21,118.09 L75.43,117.70 L75.65,117.31 L75.87,116.92 L76.09,116.53 L76.31,116.14 L76.54,115.75 L76.76,115.36 L76.98,114.97 L77.21,114.59 L77.44,114.20 L77.66,113.82 L77.89,113.43 L78.12,113.05 L78.35,112.67 L78.59,112.29 L78.82,111.91 L79.05,111.53 L79.29,111.16 L79.53,110.78 L79.76,110.40 L80.00,110.03 L80.24,109.66 L80.49,109.29 L80.73,108.92 L80.97,108.55 L81.22,108.18 L81.46,107.81 L81.71,107.45 L81.96,107.08 L82.21,106.72 L82.46,106.36 L82.71,106.00 L82.97,105.64 L83.22,105.28 L83.48,104.93 L83.74,104.57 L84.00,104.22 L84.26,103.87 L84.52,103.52 L84.78,103.17 L85.05,102.82 L85.31,102.48 L85.58,102.13 L85.85,101.79 L86.12,101.45 L86.39,101.11 L86.66,100.77 L86.94,100.44 L87.22,100.11 L87.49,99.77 L87.77,99.44 L88.05,99.11 L88.34,98.79 L88.62,98.46 L88.90,98.14 L89.19,97.82 L89.48,97.50 L89.77,97.18 L90.06,96.87 L90.36,96.55 L90.65,96.24 L90.95,95.93 L91.25,95.62 L91.55,95.32 L91.85,95.01 L92.15,94.71 L92.45,94.41 L92.76,94.11 L93.07,93.82 L93.38,93.53 L93.69,93.24 L94.01,92.95 L94.32,92.66 L94.64,92.38 L94.96,92.09 L95.28,91.81 L95.60,91.54 L95.92,91.26 L96.25,90.99 L96.58,90.72 L96.91,90.45 L97.24,90.18 L97.57,89.92 L97.91,89.66 L98.25,89.40 L98.59,89.14 L98.93,88.89 L99.27,88.64 L99.62,88.39 L99.96,88.14 L100.31,87.90 L100.66,87.66 L101.02,87.42 L101.37,87.18 L101.73,86.95 L102.09,86.72 L102.45,86.49 L102.81,86.27 L103.18,86.05 L103.55,85.83 L103.91,85.61 L104.29,85.39 L104.66,85.18 L105.03,84.97 L105.41,84.77 L105.79,84.56 L106.17,84.36 L106.55,84.16 L106.94,83.96 L107.32,83.77 L107.71,83.57 L108.10,83.38 L108.49,83.19 L108.88,83.00 L109.27,82.82 L109.66,82.64 L110.06,82.45 L110.46,82.28 L110.85,82.10 L111.25,81.92 L111.65,81.75 L112.06,81.57 L112.46,81.40 L112.86,81.23 L113.27,81.06 L113.67,80.90 L114.08,80.73 L114.49,80.57 L114.90,80.41 L115.31,80.25 L115.72,80.09 L116.13,79.93 L116.54,79.77 L116.96,79.61 L117.37,79.46 L117.78,79.30 L118.20,79.15 L118.61,79.00 L119.03,78.84 L119.45,78.69 L119.86,78.54 L120.28,78.39 L120.70,78.24 L121.12,78.10 L121.53,77.95 L121.95,77.80 L122.37,77.66 L122.79,77.51 L123.21,77.36 L123.63,77.22 L124.05,77.07 L124.47,76.93 L124.89,76.78 L125.31,76.64 L125.73,76.50 L126.14,76.35 L126.56,76.21 L126.98,76.06 L127.40,75.92 L127.82,75.78 L128.24,75.63 L128.66,75.49 L129.08,75.35 L129.50,75.21 L129.92,75.06 L130.33,74.92 L130.75,74.78 L131.17,74.64 L131.59,74.49 L132.01,74.35 L132.43,74.21 L132.85,74.07 L133.26,73.93 L133.68,73.79 L134.10,73.65 L134.52,73.51 L134.94,73.37 L135.36,73.23 L135.78,73.09 L136.19,72.95 L136.61,72.81 L137.03,72.67 L137.45,72.53 L137.87,72.39 L138.29,72.25 L138.70,72.11 L139.12,71.98 L139.54,71.84 L139.96,71.70 L140.38,71.56 L140.80,71.43 L141.22,71.29 L141.63,71.15 L142.05,71.02 L142.47,70.88 L142.89,70.74 L143.31,70.61 L143.73,70.47 L144.15,70.34 L144.57,70.20 L144.98,70.07 L145.40,69.93 L145.82,69.80 L146.24,69.67 L146.66,69.53 L147.08,69.40 L147.50,69.26 L147.92,69.13 L148.34,69.00 L148.76,68.87 L149.18,68.73 L149.60,68.60 L150.02,68.47 L150.44,68.34 L150.86,68.21 L151.27,68.08 L151.69,67.95 L152.11,67.82 L152.53,67.69 L152.95,67.56 L153.37,67.42 L153.79,67.29 L154.21,67.16 L154.63,67.03 L155.05,66.90 L155.47,66.77 L155.89,66.64 L156.31,66.51 L156.73,66.38 L157.15,66.25 L157.57,66.12 L157.99,65.99 L158.41,65.86 L158.83,65.73 L159.25,65.60 L159.66,65.47 L160.08,65.34 L160.50,65.21 L160.92,65.07 L161.34,64.94 L161.76,64.81 L162.18,64.68 L162.59,64.54 L163.01,64.41 L163.43,64.28 L163.85,64.14 L164.26,64.01 L164.68,63.88 L165.10,63.74 L165.51,63.60 L165.93,63.47 L166.35,63.33 L166.76,63.20 L167.18,63.06 L167.59,62.92 L168.01,62.78 L168.42,62.64 L168.84,62.50 L169.25,62.36 L169.67,62.22 L170.08,62.08 L170.49,61.94 L170.91,61.79 L171.32,61.65 L171.73,61.51 L172.15,61.36 L172.56,61.22 L172.97,61.07 L173.38,60.92 L173.79,60.77 L174.20,60.63 L174.61,60.48 L175.02,60.32 L175.43,60.17 L175.84,60.02 L176.25,59.87 L176.65,59.71 L177.06,59.55 L177.47,59.40 L177.87,59.24 L178.28,59.08 L178.68,58.92 L179.09,58.76 L179.49,58.59 L179.89,58.43 L180.29,58.26 L180.69,58.10 L181.09,57.93 L181.49,57.76 L181.89,57.58 L182.28,57.41 L182.68,57.24 L183.08,57.06 L183.47,56.88 L183.86,56.70 L184.26,56.52 L184.65,56.34 L185.04,56.15 L185.43,55.96 L185.81,55.78 L186.20,55.59 L186.59,55.39 L186.97,55.20 L187.35,55.00 L187.74,54.81 L188.12,54.61 L188.50,54.40 L188.87,54.20 L189.25,53.99 L189.63,53.78 L190.00,53.57 L190.37,53.36 L190.75,53.15 L191.12,52.93 L191.48,52.71 L191.85,52.49 L192.22,52.26 L192.58,52.04 L192.94,51.81 L193.30,51.58 L193.66,51.34 L194.02,51.11 L194.38,50.87 L194.73,50.63 L195.09,50.38 L195.44,50.14 L195.79,49.89 L196.14,49.64 L196.48,49.38 L196.83,49.13 L197.17,48.87 L197.51,48.61 L197.86,48.35 L198.19,48.09 L198.53,47.82 L198.87,47.55 L199.20,47.28 L199.54,47.01 L199.87,46.73 L200.20,46.45 L200.53,46.18 L200.86,45.89 L201.19,45.61 L201.51,45.33 L201.83,45.04 L202.16,44.75 L202.48,44.46 L202.80,44.17 L203.12,43.87 L203.43,43.58 L203.75,43.28 L204.06,42.98 L204.38,42.68 L204.69,42.37 L205.00,42.07 L205.31,41.76 L205.62,41.45 L205.93,41.14 L206.23,40.83 L206.54,40.51 L206.84,40.20 L207.14,39.88 L207.44,39.56 L207.74,39.24 L208.04,38.92 L208.34,38.60 L208.64,38.28 L208.93,37.95 L209.23,37.62 L209.52,37.29 L209.81,36.96 L210.10,36.63 L210.39,36.30 L210.68,35.97 L210.97,35.63 L211.26,35.29 L211.54,34.96 L211.83,34.62 L212.11,34.28 L212.39,33.94 L212.67,33.59 L212.96,33.25 L213.24,32.91 L213.51,32.56 L213.79,32.21 L214.07,31.86 L214.34,31.52 L214.62,31.17 L214.89,30.82 L215.17,30.46 L215.44,30.11 L215.71,29.76 L215.98,29.40 L216.25,29.05 L216.52,28.69 L216.79,28.33 L217.05,27.98 L217.32,27.62 L217.59,27.26 L217.85,26.90" class="fit"/>
<rect x="54.50" y="155.05" width="3.7" height="4.3" class="sq"/>
<rect x="77.58" y="108.92" width="3.7" height="4.3" class="sq"/>
<rect x="100.64" y="83.12" width="3.7" height="4.3" class="sq"/>
<rect x="123.72" y="75.31" width="3.7" height="4.3" class="sq"/>
<rect x="146.78" y="66.32" width="3.7" height="4.3" class="sq"/>
<rect x="169.86" y="59.93" width="3.7" height="4.3" class="sq"/>
<rect x="192.92" y="50.16" width="3.7" height="4.3" class="sq"/>
<rect x="216.00" y="24.75" width="3.7" height="4.3" class="sq"/>
<path d="M56.35,157.20h0 M57.90,157.03h0 M59.46,156.74h0 M61.01,156.38h0 M62.56,155.97h0 M64.11,155.50h0 M65.67,155.00h0 M67.22,154.45h0 M68.77,153.87h0 M70.33,153.26h0 M71.88,152.62h0 M73.43,151.95h0 M74.98,151.26h0 M76.54,150.54h0 M78.09,149.79h0 M79.64,149.03h0 M81.20,148.24h0 M82.75,147.42h0 M84.30,146.59h0 M85.85,145.74h0 M87.41,144.87h0 M88.96,143.98h0 M90.51,143.07h0 M92.07,142.14h0 M93.62,141.19h0 M95.17,140.23h0 M96.72,139.25h0 M98.28,138.26h0 M99.83,137.25h0 M101.38,136.22h0 M102.94,135.18h0 M104.49,134.12h0 M106.04,133.05h0 M107.60,131.96h0 M109.15,130.86h0 M110.70,129.75h0 M112.25,128.62h0 M113.81,127.48h0 M115.36,126.32h0 M116.91,125.15h0 M118.47,123.97h0 M120.02,122.78h0 M121.57,121.57h0 M123.12,120.35h0 M124.68,119.12h0 M126.23,117.87h0 M127.78,116.62h0 M129.34,115.35h0 M130.89,114.07h0 M132.44,112.78h0 M133.99,111.48h0 M135.55,110.17h0 M137.10,108.84h0 M138.65,107.51h0 M140.21,106.16h0 M141.76,104.80h0 M143.31,103.44h0 M144.86,102.06h0 M146.42,100.67h0 M147.97,99.27h0 M149.52,97.86h0 M151.08,96.44h0 M152.63,95.01h0 M154.18,93.57h0 M155.73,92.12h0 M157.29,90.66h0 M158.84,89.20h0 M160.39,87.72h0 M161.95,86.23h0 M163.50,84.73h0 M165.05,83.23h0 M166.60,81.71h0 M168.16,80.19h0 M169.71,78.65h0 M171.26,77.11h0 M172.82,75.56h0 M174.37,73.99h0 M175.92,72.42h0 M177.47,70.85h0 M179.03,69.26h0 M180.58,67.66h0 M182.13,66.06h0 M183.69,64.44h0 M185.24,62.82h0 M186.79,61.19h0 M188.35,59.55h0 M189.90,57.91h0 M191.45,56.25h0 M193.00,54.59h0 M194.56,52.92h0 M196.11,51.24h0 M197.66,49.55h0 M199.22,47.85h0 M200.77,46.15h0 M202.32,44.44h0 M203.87,42.72h0 M205.43,40.99h0 M206.98,39.26h0 M208.53,37.51h0 M210.09,35.76h0 M211.64,34.01h0 M213.19,32.24h0 M214.74,30.47h0 M216.30,28.69h0 M217.85,26.90h0" class="rd" stroke-width="1.95"/>
<path d="M234.0,14.0 H40.2 V170.2 H234.0" class="ax"/>
<line x1="234.0" y1="13.5" x2="234.0" y2="170.7" class="rax"/>
<path d="M56.35,170.2 v3.5 M56.35,14.0 v3.5 M40.2,157.20 h-3.5 M72.50,170.2 v1.8 M72.50,14.0 v1.8 M40.2,144.17 h-1.8 M88.65,170.2 v3.5 M88.65,14.0 v3.5 M40.2,131.14 h-3.5 M104.80,170.2 v1.8 M104.80,14.0 v1.8 M40.2,118.11 h-1.8 M120.95,170.2 v3.5 M120.95,14.0 v3.5 M40.2,105.08 h-3.5 M137.10,170.2 v1.8 M137.10,14.0 v1.8 M40.2,92.05 h-1.8 M153.25,170.2 v3.5 M153.25,14.0 v3.5 M40.2,79.02 h-3.5 M169.40,170.2 v1.8 M169.40,14.0 v1.8 M40.2,65.99 h-1.8 M185.55,170.2 v3.5 M185.55,14.0 v3.5 M40.2,52.96 h-3.5 M201.70,170.2 v1.8 M201.70,14.0 v1.8 M40.2,39.93 h-1.8 M217.85,170.2 v3.5 M217.85,14.0 v3.5 M40.2,26.90 h-3.5" class="tk"/>
<path d="M234.0,157.20 h3.5 M234.0,144.17 h1.8 M234.0,131.14 h3.5 M234.0,118.11 h1.8 M234.0,105.08 h3.5 M234.0,92.05 h1.8 M234.0,79.02 h3.5 M234.0,65.99 h1.8 M234.0,52.96 h3.5 M234.0,39.93 h1.8 M234.0,26.90 h3.5" class="rtk"/>
<text transform="translate(56.35,183.10) scale(1.000,1.030)" class="tl" text-anchor="middle">0.0</text>
<text transform="translate(35.40,160.24) scale(1.000,1.030)" class="tl" text-anchor="end">0.0</text>
<text transform="translate(239.00,160.24) scale(1.000,1.030)" class="tl red">0.0</text>
<text transform="translate(88.65,183.10) scale(1.000,1.030)" class="tl" text-anchor="middle">0.2</text>
<text transform="translate(35.40,134.18) scale(1.000,1.030)" class="tl" text-anchor="end">0.2</text>
<text transform="translate(239.00,134.18) scale(1.000,1.030)" class="tl red">0.2</text>
<text transform="translate(120.95,183.10) scale(1.000,1.030)" class="tl" text-anchor="middle">0.4</text>
<text transform="translate(35.40,108.12) scale(1.000,1.030)" class="tl" text-anchor="end">0.4</text>
<text transform="translate(239.00,108.12) scale(1.000,1.030)" class="tl red">0.4</text>
<text transform="translate(153.25,183.10) scale(1.000,1.030)" class="tl" text-anchor="middle">0.6</text>
<text transform="translate(35.40,82.06) scale(1.000,1.030)" class="tl" text-anchor="end">0.6</text>
<text transform="translate(239.00,82.06) scale(1.000,1.030)" class="tl red">0.6</text>
<text transform="translate(185.55,183.10) scale(1.000,1.030)" class="tl" text-anchor="middle">0.8</text>
<text transform="translate(35.40,56.00) scale(1.000,1.030)" class="tl" text-anchor="end">0.8</text>
<text transform="translate(239.00,56.00) scale(1.000,1.030)" class="tl red">0.8</text>
<text transform="translate(217.85,183.10) scale(1.000,1.030)" class="tl" text-anchor="middle">1.0</text>
<text transform="translate(35.40,29.94) scale(1.000,1.030)" class="tl" text-anchor="end">1.0</text>
<text transform="translate(239.00,29.94) scale(1.000,1.030)" class="tl red">1.0</text>
<text transform="translate(136.60,200.50) scale(1.000,1.060)" class="at" text-anchor="middle">Relative cycle [n/N]</text>
<text transform="translate(15.90,92.00) scale(0.935,1.000) rotate(-90)" class="at" text-anchor="middle">Maximum damage per cycle group</text>
<text transform="translate(264.30,92.00) scale(0.935,1.000) rotate(-90)" class="at" text-anchor="middle">Accumulative damage</text>
<text transform="translate(205.90,162.20)" class="pl">(c)</text>
</g>
<g transform="translate(280,209.3)">
<line x1="55.4" y1="32.08" x2="122.3" y2="32.08" class="tg"/>
<line x1="55.4" y1="37.85" x2="122.3" y2="37.85" class="tg"/>
<line x1="55.4" y1="43.62" x2="122.3" y2="43.62" class="tg"/>
<line x1="55.4" y1="49.40" x2="122.3" y2="49.40" class="tg"/>
<line x1="55.4" y1="55.17" x2="122.3" y2="55.17" class="tg"/>
<line x1="55.4" y1="60.95" x2="122.3" y2="60.95" class="tg"/>
<line x1="55.4" y1="66.73" x2="122.3" y2="66.73" class="tg"/>
<line x1="86.7" y1="26.3" x2="86.7" y2="72.5" class="tg"/>
<rect x="55.4" y="26.3" width="66.90" height="46.20" fill="none" stroke="#7a7a7a" stroke-width="0.9"/>
<text transform="translate(56.30,31.59) scale(1.000,1.300)" class="tb">Model</text>
<text transform="translate(104.50,31.59) scale(1.000,1.300)" class="tb" text-anchor="middle">Fatigue (User)</text>
<text transform="translate(56.30,37.36) scale(1.000,1.300)" class="tb">Equation</text>
<text transform="translate(104.50,37.36) scale(1.000,1.300)" class="tb" text-anchor="middle">1-(1-(x)^a)^b</text>
<text transform="translate(56.30,43.14) scale(1.000,1.300)" class="tb">Mapping</text>
<text transform="translate(104.50,43.14) scale(1.000,1.300)" class="tb" text-anchor="middle">B</text>
<text transform="translate(56.30,48.91) scale(1.000,1.300)" class="tb">a</text>
<text transform="translate(104.50,48.91) scale(1.000,1.300)" class="tb" text-anchor="middle">2.00167 ± 0.494</text>
<text transform="translate(56.30,54.69) scale(1.000,1.300)" class="tb">b</text>
<text transform="translate(104.50,54.69) scale(1.000,1.300)" class="tb" text-anchor="middle">2.79087 ± 1.117</text>
<text transform="translate(56.30,60.46) scale(1.000,1.300)" class="tb">Reduced Chi-Sq</text>
<text transform="translate(104.50,60.46) scale(1.000,1.300)" class="tb" text-anchor="middle">0.00425</text>
<text transform="translate(56.30,66.24) scale(1.000,1.300)" class="tb">R2 (COD)</text>
<text transform="translate(104.50,66.24) scale(1.000,1.300)" class="tb" text-anchor="middle">0.98174</text>
<text transform="translate(56.30,72.01) scale(1.000,1.300)" class="tb">Adjusted R2</text>
<text transform="translate(104.50,72.01) scale(1.000,1.300)" class="tb" text-anchor="middle">0.97717</text>
<path d="M56.35,157.21 L56.84,157.21 L57.32,157.21 L57.80,157.20 L58.28,157.19 L58.75,157.18 L59.23,157.16 L59.70,157.14 L60.16,157.11 L60.63,157.08 L61.09,157.05 L61.55,157.01 L62.01,156.97 L62.46,156.92 L62.91,156.87 L63.36,156.82 L63.81,156.76 L64.25,156.70 L64.69,156.64 L65.13,156.57 L65.57,156.50 L66.00,156.42 L66.43,156.34 L66.86,156.26 L67.28,156.18 L67.71,156.09 L68.13,155.99 L68.55,155.90 L68.97,155.80 L69.38,155.69 L69.79,155.59 L70.20,155.48 L70.61,155.36 L71.01,155.25 L71.42,155.13 L71.82,155.00 L72.21,154.87 L72.61,154.74 L73.00,154.61 L73.39,154.47 L73.78,154.33 L74.17,154.19 L74.56,154.04 L74.94,153.89 L75.32,153.74 L75.70,153.58 L76.07,153.43 L76.45,153.26 L76.82,153.10 L77.19,152.93 L77.56,152.76 L77.92,152.58 L78.29,152.41 L78.65,152.23 L79.01,152.04 L79.37,151.86 L79.73,151.67 L80.08,151.48 L80.43,151.28 L80.78,151.09 L81.13,150.89 L81.48,150.68 L81.82,150.48 L82.17,150.27 L82.51,150.06 L82.85,149.85 L83.19,149.63 L83.52,149.41 L83.86,149.19 L84.19,148.97 L84.52,148.74 L84.85,148.51 L85.18,148.28 L85.50,148.05 L85.83,147.81 L86.15,147.57 L86.47,147.33 L86.79,147.09 L87.11,146.84 L87.43,146.59 L87.74,146.34 L88.05,146.09 L88.36,145.83 L88.68,145.57 L88.98,145.32 L89.29,145.05 L89.60,144.79 L89.90,144.52 L90.20,144.25 L90.51,143.98 L90.81,143.71 L91.10,143.44 L91.40,143.16 L91.70,142.88 L91.99,142.60 L92.29,142.32 L92.58,142.03 L92.87,141.74 L93.16,141.46 L93.45,141.17 L93.73,140.87 L94.02,140.58 L94.31,140.28 L94.59,139.98 L94.87,139.68 L95.15,139.38 L95.43,139.08 L95.71,138.77 L95.99,138.47 L96.27,138.16 L96.54,137.85 L96.82,137.54 L97.09,137.22 L97.36,136.91 L97.64,136.59 L97.91,136.27 L98.18,135.96 L98.44,135.63 L98.71,135.31 L98.98,134.99 L99.24,134.66 L99.51,134.34 L99.77,134.01 L100.04,133.68 L100.30,133.35 L100.56,133.01 L100.82,132.68 L101.08,132.35 L101.34,132.01 L101.60,131.67 L101.86,131.33 L102.12,131.00 L102.37,130.65 L102.63,130.31 L102.88,129.97 L103.14,129.63 L103.39,129.28 L103.64,128.93 L103.90,128.59 L104.15,128.24 L104.40,127.89 L104.65,127.54 L104.90,127.19 L105.15,126.84 L105.40,126.48 L105.65,126.13 L105.89,125.77 L106.14,125.42 L106.39,125.06 L106.63,124.70 L106.88,124.35 L107.13,123.99 L107.37,123.63 L107.62,123.27 L107.86,122.91 L108.11,122.55 L108.35,122.18 L108.59,121.82 L108.84,121.46 L109.08,121.10 L109.32,120.73 L109.57,120.37 L109.81,120.00 L110.05,119.64 L110.29,119.27 L110.53,118.90 L110.77,118.54 L111.02,118.17 L111.26,117.80 L111.50,117.43 L111.74,117.06 L111.98,116.70 L112.22,116.33 L112.46,115.96 L112.70,115.59 L112.94,115.22 L113.18,114.85 L113.42,114.48 L113.67,114.11 L113.91,113.74 L114.15,113.37 L114.39,113.00 L114.63,112.63 L114.87,112.26 L115.11,111.89 L115.35,111.52 L115.59,111.15 L115.84,110.78 L116.08,110.41 L116.32,110.04 L116.56,109.67 L116.80,109.30 L117.05,108.93 L117.29,108.56 L117.53,108.19 L117.78,107.82 L118.02,107.45 L118.26,107.08 L118.51,106.72 L118.75,106.35 L119.00,105.98 L119.24,105.61 L119.49,105.25 L119.74,104.88 L119.98,104.52 L120.23,104.15 L120.48,103.79 L120.73,103.42 L120.98,103.06 L121.23,102.70 L121.48,102.33 L121.73,101.97 L121.98,101.61 L122.23,101.25 L122.48,100.89 L122.73,100.53 L122.99,100.17 L123.24,99.81 L123.49,99.46 L123.75,99.10 L124.00,98.74 L124.26,98.39 L124.52,98.03 L124.77,97.68 L125.03,97.33 L125.29,96.97 L125.55,96.62 L125.81,96.27 L126.07,95.92 L126.33,95.57 L126.59,95.22 L126.85,94.87 L127.12,94.52 L127.38,94.17 L127.64,93.83 L127.91,93.48 L128.17,93.13 L128.44,92.79 L128.70,92.45 L128.97,92.10 L129.24,91.76 L129.50,91.42 L129.77,91.07 L130.04,90.73 L130.31,90.39 L130.58,90.05 L130.85,89.71 L131.12,89.38 L131.39,89.04 L131.66,88.70 L131.94,88.36 L132.21,88.03 L132.48,87.69 L132.76,87.36 L133.03,87.03 L133.31,86.69 L133.59,86.36 L133.86,86.03 L134.14,85.70 L134.42,85.37 L134.70,85.04 L134.97,84.71 L135.25,84.38 L135.53,84.05 L135.82,83.72 L136.10,83.40 L136.38,83.07 L136.66,82.75 L136.94,82.42 L137.23,82.10 L137.51,81.78 L137.80,81.45 L138.08,81.13 L138.37,80.81 L138.65,80.49 L138.94,80.17 L139.23,79.85 L139.52,79.53 L139.81,79.22 L140.10,78.90 L140.39,78.58 L140.68,78.27 L140.97,77.95 L141.26,77.64 L141.55,77.33 L141.84,77.01 L142.14,76.70 L142.43,76.39 L142.73,76.08 L143.02,75.77 L143.32,75.46 L143.61,75.15 L143.91,74.84 L144.21,74.53 L144.51,74.23 L144.80,73.92 L145.10,73.62 L145.40,73.31 L145.70,73.01 L146.00,72.71 L146.31,72.40 L146.61,72.10 L146.91,71.80 L147.21,71.50 L147.52,71.20 L147.82,70.90 L148.13,70.60 L148.43,70.31 L148.74,70.01 L149.04,69.71 L149.35,69.42 L149.66,69.12 L149.97,68.83 L150.28,68.53 L150.59,68.24 L150.90,67.95 L151.21,67.66 L151.52,67.37 L151.83,67.08 L152.14,66.79 L152.46,66.50 L152.77,66.21 L153.08,65.93 L153.40,65.64 L153.71,65.35 L154.03,65.07 L154.35,64.79 L154.66,64.50 L154.98,64.22 L155.30,63.94 L155.62,63.66 L155.94,63.38 L156.26,63.10 L156.58,62.82 L156.90,62.54 L157.22,62.26 L157.54,61.98 L157.87,61.71 L158.19,61.43 L158.51,61.16 L158.84,60.88 L159.16,60.61 L159.49,60.34 L159.82,60.06 L160.14,59.79 L160.47,59.52 L160.80,59.25 L161.13,58.98 L161.46,58.71 L161.79,58.45 L162.12,58.18 L162.45,57.91 L162.78,57.65 L163.11,57.38 L163.44,57.12 L163.78,56.86 L164.11,56.59 L164.45,56.33 L164.78,56.07 L165.12,55.81 L165.45,55.55 L165.79,55.29 L166.13,55.03 L166.46,54.78 L166.80,54.52 L167.14,54.26 L167.48,54.01 L167.82,53.76 L168.16,53.50 L168.50,53.25 L168.85,53.00 L169.19,52.74 L169.53,52.49 L169.88,52.24 L170.22,52.00 L170.56,51.75 L170.91,51.50 L171.26,51.25 L171.60,51.01 L171.95,50.76 L172.30,50.52 L172.65,50.27 L172.99,50.03 L173.34,49.79 L173.69,49.54 L174.05,49.30 L174.40,49.06 L174.75,48.82 L175.10,48.58 L175.45,48.35 L175.81,48.11 L176.16,47.87 L176.52,47.64 L176.87,47.40 L177.23,47.17 L177.58,46.93 L177.94,46.70 L178.30,46.47 L178.66,46.24 L179.02,46.01 L179.38,45.78 L179.74,45.55 L180.10,45.32 L180.46,45.09 L180.82,44.87 L181.18,44.64 L181.54,44.42 L181.91,44.19 L182.27,43.97 L182.64,43.74 L183.00,43.52 L183.37,43.30 L183.73,43.08 L184.10,42.86 L184.47,42.64 L184.84,42.42 L185.21,42.21 L185.58,41.99 L185.95,41.77 L186.32,41.56 L186.69,41.34 L187.06,41.13 L187.43,40.92 L187.80,40.71 L188.18,40.49 L188.55,40.28 L188.93,40.07 L189.30,39.86 L189.68,39.66 L190.05,39.45 L190.43,39.24 L190.81,39.04 L191.19,38.83 L191.56,38.63 L191.94,38.42 L192.32,38.22 L192.70,38.02 L193.08,37.82 L193.47,37.62 L193.85,37.42 L194.23,37.22 L194.61,37.02 L195.00,36.82 L195.38,36.63 L195.77,36.43 L196.15,36.24 L196.54,36.04 L196.93,35.85 L197.31,35.66 L197.70,35.47 L198.09,35.27 L198.48,35.08 L198.87,34.89 L199.26,34.71 L199.65,34.52 L200.04,34.33 L200.44,34.15 L200.83,33.96 L201.22,33.78 L201.62,33.59 L202.01,33.41 L202.41,33.23 L202.80,33.05 L203.20,32.86 L203.59,32.68 L203.99,32.51 L204.39,32.33 L204.79,32.15 L205.19,31.97 L205.59,31.80 L205.99,31.62 L206.39,31.45 L206.79,31.28 L207.19,31.10 L207.59,30.93 L208.00,30.76 L208.40,30.59 L208.81,30.42 L209.21,30.25 L209.62,30.08 L210.02,29.92 L210.43,29.75 L210.84,29.59 L211.25,29.42 L211.65,29.26 L212.06,29.10 L212.47,28.93 L212.88,28.77 L213.29,28.61 L213.71,28.45 L214.12,28.29 L214.53,28.14 L214.94,27.98 L215.36,27.82 L215.77,27.67 L216.19,27.51 L216.60,27.36 L217.02,27.21 L217.44,27.05 L217.85,26.90" class="fit"/>
<rect x="54.50" y="155.05" width="3.7" height="4.3" class="sq"/>
<rect x="86.80" y="153.23" width="3.7" height="4.3" class="sq"/>
<rect x="119.10" y="96.81" width="3.7" height="4.3" class="sq"/>
<rect x="151.40" y="61.89" width="3.7" height="4.3" class="sq"/>
<rect x="183.70" y="40.78" width="3.7" height="4.3" class="sq"/>
<rect x="216.00" y="24.75" width="3.7" height="4.3" class="sq"/>
<path d="M56.35,157.20h0 M58.66,157.20h0 M60.96,157.20h0 M63.27,157.20h0 M65.58,157.20h0 M67.89,157.20h0 M70.19,157.20h0 M72.50,157.20h0 M74.81,157.20h0 M77.11,157.20h0 M79.42,157.20h0 M81.73,157.20h0 M84.04,157.20h0 M86.34,157.20h0 M88.65,157.20h0 M90.96,155.75h0 M93.26,154.30h0 M95.57,152.84h0 M97.88,151.39h0 M100.19,149.94h0 M102.49,148.49h0 M104.80,147.04h0 M107.11,145.58h0 M109.41,144.13h0 M111.72,142.68h0 M114.03,141.23h0 M116.34,139.78h0 M118.64,138.33h0 M120.95,136.87h0 M123.26,134.71h0 M125.56,132.55h0 M127.87,130.40h0 M130.18,128.24h0 M132.49,126.08h0 M134.79,123.92h0 M137.10,121.76h0 M139.41,119.60h0 M141.71,117.44h0 M144.02,115.28h0 M146.33,113.12h0 M148.64,110.96h0 M150.94,108.80h0 M153.25,106.64h0 M155.56,103.79h0 M157.86,100.93h0 M160.17,98.07h0 M162.48,95.21h0 M164.79,92.36h0 M167.09,89.50h0 M169.40,86.64h0 M171.71,83.79h0 M174.01,80.93h0 M176.32,78.07h0 M178.63,75.21h0 M180.94,72.36h0 M183.24,69.50h0 M185.55,66.64h0 M187.86,63.80h0 M190.16,60.96h0 M192.47,58.13h0 M194.78,55.29h0 M197.09,52.45h0 M199.39,49.61h0 M201.70,46.77h0 M204.01,43.93h0 M206.31,41.09h0 M208.62,38.25h0 M210.93,35.42h0 M213.24,32.58h0 M215.54,29.74h0 M217.85,26.90h0" class="rd" stroke-width="2.2"/>
<path d="M234.0,14.0 H40.2 V170.2 H234.0" class="ax"/>
<line x1="234.0" y1="13.5" x2="234.0" y2="170.7" class="rax"/>
<path d="M56.35,170.2 v3.5 M56.35,14.0 v3.5 M40.2,157.20 h-3.5 M72.50,170.2 v1.8 M72.50,14.0 v1.8 M40.2,144.17 h-1.8 M88.65,170.2 v3.5 M88.65,14.0 v3.5 M40.2,131.14 h-3.5 M104.80,170.2 v1.8 M104.80,14.0 v1.8 M40.2,118.11 h-1.8 M120.95,170.2 v3.5 M120.95,14.0 v3.5 M40.2,105.08 h-3.5 M137.10,170.2 v1.8 M137.10,14.0 v1.8 M40.2,92.05 h-1.8 M153.25,170.2 v3.5 M153.25,14.0 v3.5 M40.2,79.02 h-3.5 M169.40,170.2 v1.8 M169.40,14.0 v1.8 M40.2,65.99 h-1.8 M185.55,170.2 v3.5 M185.55,14.0 v3.5 M40.2,52.96 h-3.5 M201.70,170.2 v1.8 M201.70,14.0 v1.8 M40.2,39.93 h-1.8 M217.85,170.2 v3.5 M217.85,14.0 v3.5 M40.2,26.90 h-3.5" class="tk"/>
<path d="M234.0,157.20 h3.5 M234.0,144.17 h1.8 M234.0,131.14 h3.5 M234.0,118.11 h1.8 M234.0,105.08 h3.5 M234.0,92.05 h1.8 M234.0,79.02 h3.5 M234.0,65.99 h1.8 M234.0,52.96 h3.5 M234.0,39.93 h1.8 M234.0,26.90 h3.5" class="rtk"/>
<text transform="translate(56.35,183.10) scale(1.000,1.030)" class="tl" text-anchor="middle">0.0</text>
<text transform="translate(35.40,160.24) scale(1.000,1.030)" class="tl" text-anchor="end">0.0</text>
<text transform="translate(239.00,160.24) scale(1.000,1.030)" class="tl red">0.0</text>
<text transform="translate(88.65,183.10) scale(1.000,1.030)" class="tl" text-anchor="middle">0.2</text>
<text transform="translate(35.40,134.18) scale(1.000,1.030)" class="tl" text-anchor="end">0.2</text>
<text transform="translate(239.00,134.18) scale(1.000,1.030)" class="tl red">0.2</text>
<text transform="translate(120.95,183.10) scale(1.000,1.030)" class="tl" text-anchor="middle">0.4</text>
<text transform="translate(35.40,108.12) scale(1.000,1.030)" class="tl" text-anchor="end">0.4</text>
<text transform="translate(239.00,108.12) scale(1.000,1.030)" class="tl red">0.4</text>
<text transform="translate(153.25,183.10) scale(1.000,1.030)" class="tl" text-anchor="middle">0.6</text>
<text transform="translate(35.40,82.06) scale(1.000,1.030)" class="tl" text-anchor="end">0.6</text>
<text transform="translate(239.00,82.06) scale(1.000,1.030)" class="tl red">0.6</text>
<text transform="translate(185.55,183.10) scale(1.000,1.030)" class="tl" text-anchor="middle">0.8</text>
<text transform="translate(35.40,56.00) scale(1.000,1.030)" class="tl" text-anchor="end">0.8</text>
<text transform="translate(239.00,56.00) scale(1.000,1.030)" class="tl red">0.8</text>
<text transform="translate(217.85,183.10) scale(1.000,1.030)" class="tl" text-anchor="middle">1.0</text>
<text transform="translate(35.40,29.94) scale(1.000,1.030)" class="tl" text-anchor="end">1.0</text>
<text transform="translate(239.00,29.94) scale(1.000,1.030)" class="tl red">1.0</text>
<text transform="translate(136.60,200.50) scale(1.000,1.060)" class="at" text-anchor="middle">Relative cycle [n/N]</text>
<text transform="translate(15.90,92.00) scale(0.935,1.000) rotate(-90)" class="at" text-anchor="middle">Maximum damage per cycle group</text>
<text transform="translate(264.30,92.00) scale(0.935,1.000) rotate(-90)" class="at" text-anchor="middle">Accumulative damage</text>
<text transform="translate(205.90,162.20)" class="pl">(d)</text>
</g>
</svg></body></html>
